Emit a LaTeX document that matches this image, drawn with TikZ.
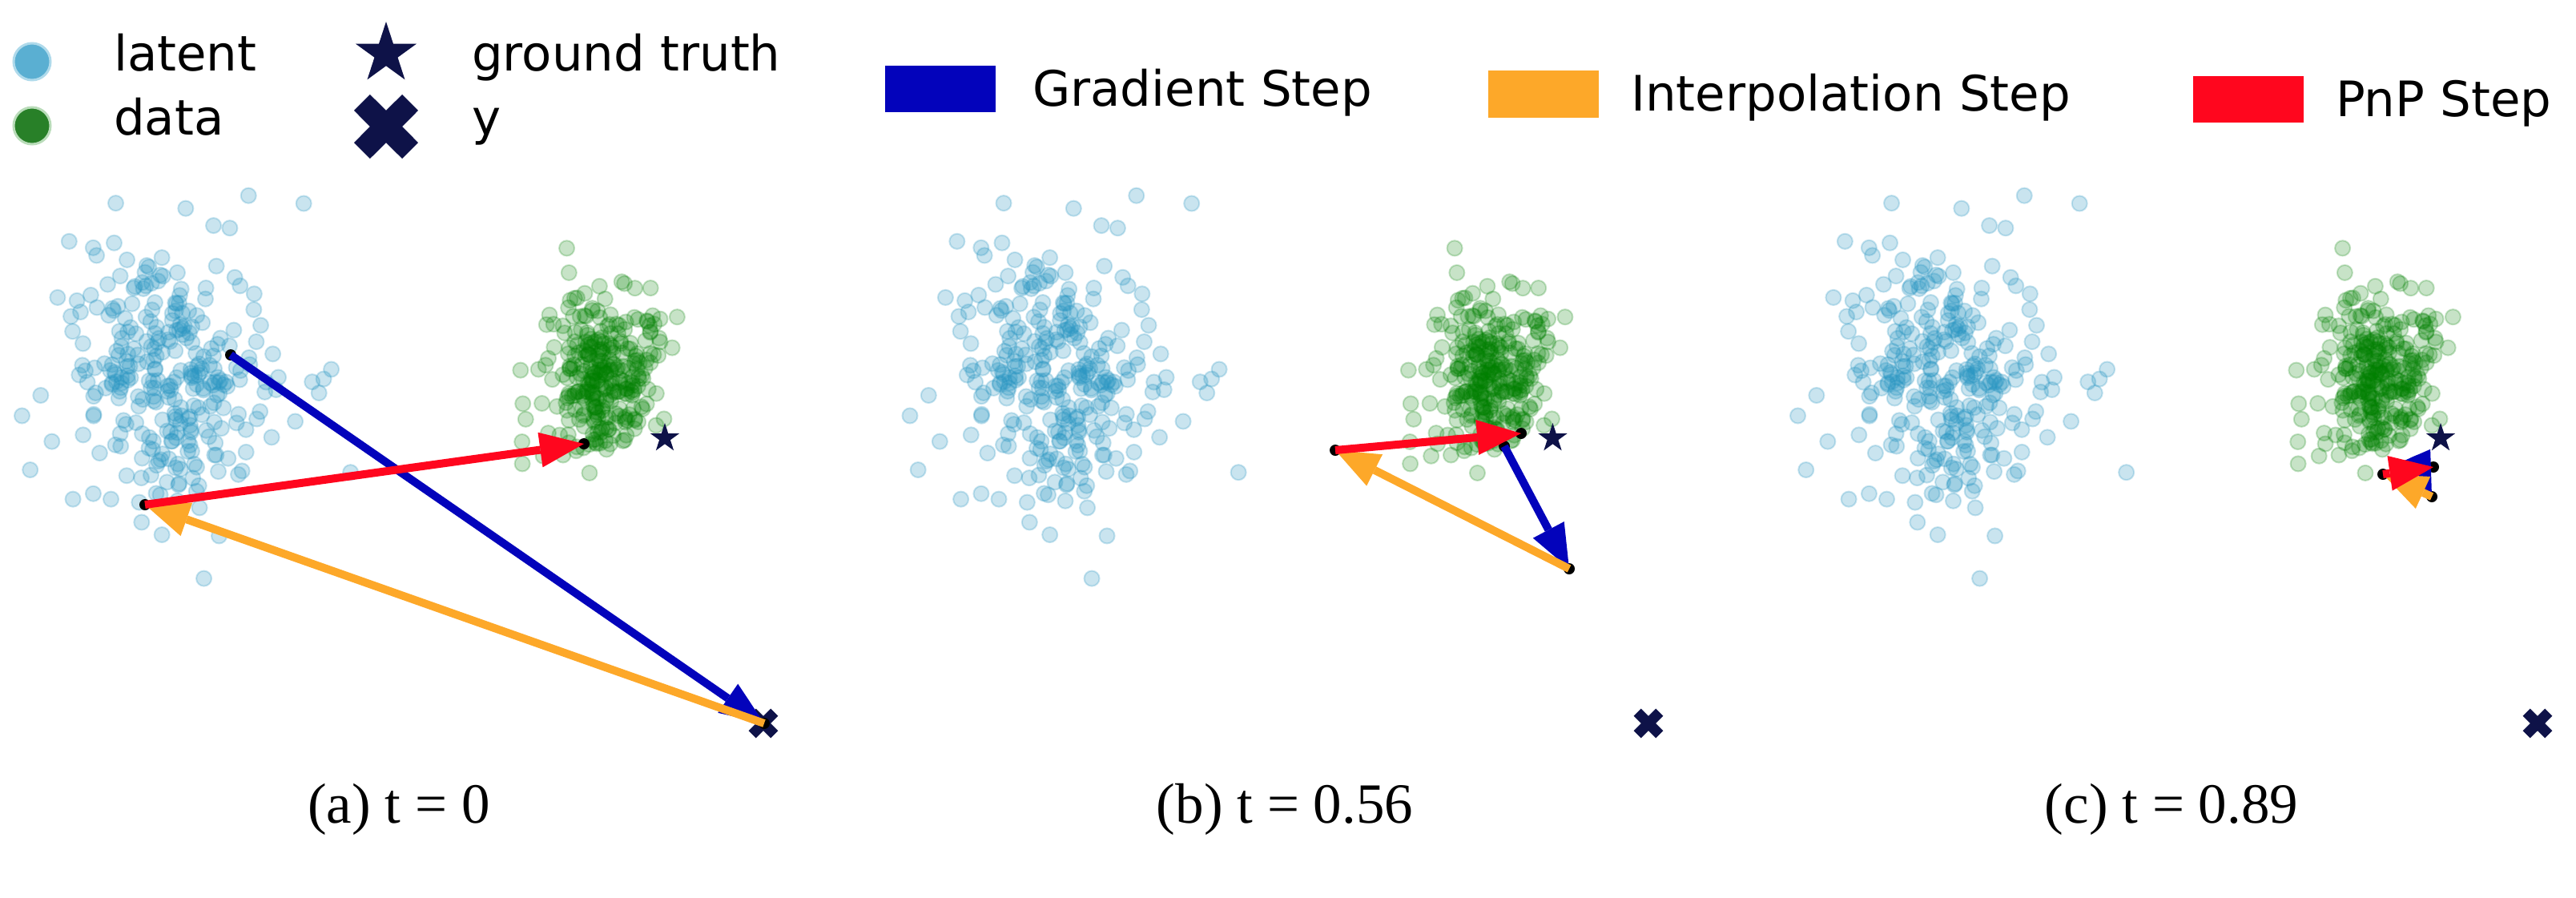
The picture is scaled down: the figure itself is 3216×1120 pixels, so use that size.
\documentclass[tikz,border=0pt]{standalone}
\usepackage{fontspec}
\setmainfont{Liberation Serif}
\newfontfamily\legfont{DejaVu Sans}
\usetikzlibrary{arrows.meta}
\definecolor{latentc}{RGB}{40,150,195}
\definecolor{datac}{RGB}{0,128,0}
\definecolor{navyc}{RGB}{14,18,72}
\definecolor{gradc}{RGB}{3,3,187}
\definecolor{interc}{RGB}{253,168,41}
\definecolor{pnpc}{RGB}{255,6,30}
\definecolor{latentleg}{RGB}{90,175,210}
\definecolor{latentring}{RGB}{175,218,235}
\definecolor{dataleg}{RGB}{40,128,40}
\definecolor{dataring}{RGB}{185,220,185}
\tikzset{
  latentpt/.style={fill=latentc, draw=latentc, fill opacity=0.25, draw opacity=0.25, line width=2pt},
  datapt/.style={fill=datac, draw=datac, fill opacity=0.22, draw opacity=0.22, line width=2pt},
  stepline/.style={line width=10pt, -{Triangle[length=55pt,width=44pt,line width=0pt]}},
  gradarrow/.style={stepline, draw=gradc, fill=gradc},
  interarrow/.style={stepline, draw=interc, fill=interc},
  pnparrow/.style={stepline, draw=pnpc, fill=pnpc},
  iterdot/.style={fill=black},
  legtext/.style={anchor=base west, inner sep=0pt, font=\legfont\fontsize{61}{70}\selectfont},
  captext/.style={anchor=base, inner sep=0pt, font=\fontsize{71}{80}\selectfont},
}
\newcommand{\drawcloud}[7]{%
  \pgfmathsetseed{#1}%
  \foreach \i in {1,...,#7}{%
    \pgfmathsetmacro{\ua}{max(rnd,0.0005)}%
    \pgfmathsetmacro{\ub}{rnd}%
    \pgfmathsetmacro{\rr}{sqrt(-2*ln(\ua))}%
    \pgfmathsetmacro{\px}{#2+#4*\rr*cos(360*\ub)}%
    \pgfmathsetmacro{\py}{#3+#5*\rr*sin(360*\ub)}%
    \path[#6] (\px,\py) circle[radius=9.5pt];%
  }%
}
\newcommand{\gtstar}[2]{%
  \fill[navyc, shift={(#1)}, scale=#2] (-90:1) -- (-54:0.382) -- (-18:1) -- (18:0.382) -- (54:1) -- (90:0.382) -- (126:1) -- (162:0.382) -- (198:1) -- (234:0.382) -- cycle;%
}
\newcommand{\ymark}[2]{%
  \fill[navyc, shift={(#1)}, scale=#2] (0.236,0.471) -- (0.471,0.236) -- (0.236,0) -- (0.471,-0.236) -- (0.236,-0.471) -- (0,-0.236) -- (-0.236,-0.471) -- (-0.471,-0.236) -- (-0.236,0) -- (-0.471,0.236) -- (-0.236,0.471) -- (0,0.236) -- cycle;%
}
\begin{document}
\begin{tikzpicture}[x=1pt, y=-1pt]
\fill[white] (0,0) rectangle (3216,1120);
\useasboundingbox (0,0) rectangle (3216,1120);

% scatter clouds (same samples in every panel)
\foreach \off in {0,1108.5,2217}{
  \begin{scope}[xshift=\off pt]
    \drawcloud{11}{212}{468}{63}{80}{latentpt}{300}
    \drawcloud{23}{752}{475}{34}{47}{datapt}{300}
  \end{scope}
}

% named positions
\coordinate (Sa) at (288,443);  \coordinate (Ba) at (954,903);
\coordinate (Aa) at (181,630);  \coordinate (Ra) at (729,554);
\coordinate (GTa) at (830,547); \coordinate (Ya) at (953,903);

\coordinate (Sb) at (1878,557); \coordinate (Bb) at (1959,710);
\coordinate (Ab) at (1667,562); \coordinate (Rb) at (1899,541);
\coordinate (GTb) at (1938.5,547); \coordinate (Yb) at (2058,903);

\coordinate (Sc) at (3022,588); \coordinate (Bc) at (3036,620);
\coordinate (Ac) at (2975,592); \coordinate (Rc) at (3038,583);
\coordinate (GTc) at (3047,547); \coordinate (Yc) at (3168,903);

% ground truth and y markers
\gtstar{GTa}{19} \gtstar{GTb}{19} \gtstar{GTc}{19}
\ymark{Ya}{39} \ymark{Yb}{39} \ymark{Yc}{39}

% iterate dots
\foreach \p in {Sa,Ba,Aa,Ra,Sb,Bb,Ab,Rb,Sc,Bc,Ac,Rc}{
  \fill[iterdot] (\p) circle[radius=7pt];
}

% steps
\draw[gradarrow] (Sa) -- (Ba);
\draw[interarrow] (Ba) -- (Aa);
\draw[pnparrow] (Aa) -- (Ra);

\draw[gradarrow] (Sb) -- (Bb);
\draw[interarrow] (Bb) -- (Ab);
\draw[pnparrow] (Ab) -- (Rb);

\draw[gradarrow] (Sc) -- (Bc);
\draw[interarrow] (Bc) -- (Ac);
\draw[pnparrow] (Ac) -- (Rc);

% legend 1
\coordinate (LlatM) at (40,77);
\coordinate (LdatM) at (40,157);
\fill[latentleg, draw=latentring, line width=3pt] (LlatM) circle[radius=23pt];
\fill[dataleg, draw=dataring, line width=3pt] (LdatM) circle[radius=23pt];
\node[legtext] (tlat) at (142,88) {latent};
\node[legtext] (tdat) at (142,168) {data};
\coordinate (LgtM) at (482,67);
\coordinate (LyM) at (482,158);
\gtstar{LgtM}{40}
\ymark{LyM}{85}
\node[legtext] (tgt) at (589,88) {ground truth};
\node[legtext] (ty) at (589,168) {y};

% legend 2
\fill[gradc] (1105,82) rectangle (1243,140);
\node[legtext] (tgrad) at (1289,132) {Gradient Step};
\fill[interc] (1858,88) rectangle (1996,147);
\node[legtext] (tinter) at (2036,138) {Interpolation Step};
\fill[pnpc] (2738,95) rectangle (2876,153);
\node[legtext] (tpnp) at (2916,145) {PnP Step};

% captions
\node[captext] (capa) at (498,1027) {(a) t = 0};
\node[captext] (capb) at (1604,1027) {(b) t = 0.56};
\node[captext] (capc) at (2711,1027) {(c) t = 0.89};
\end{tikzpicture}
\end{document}
